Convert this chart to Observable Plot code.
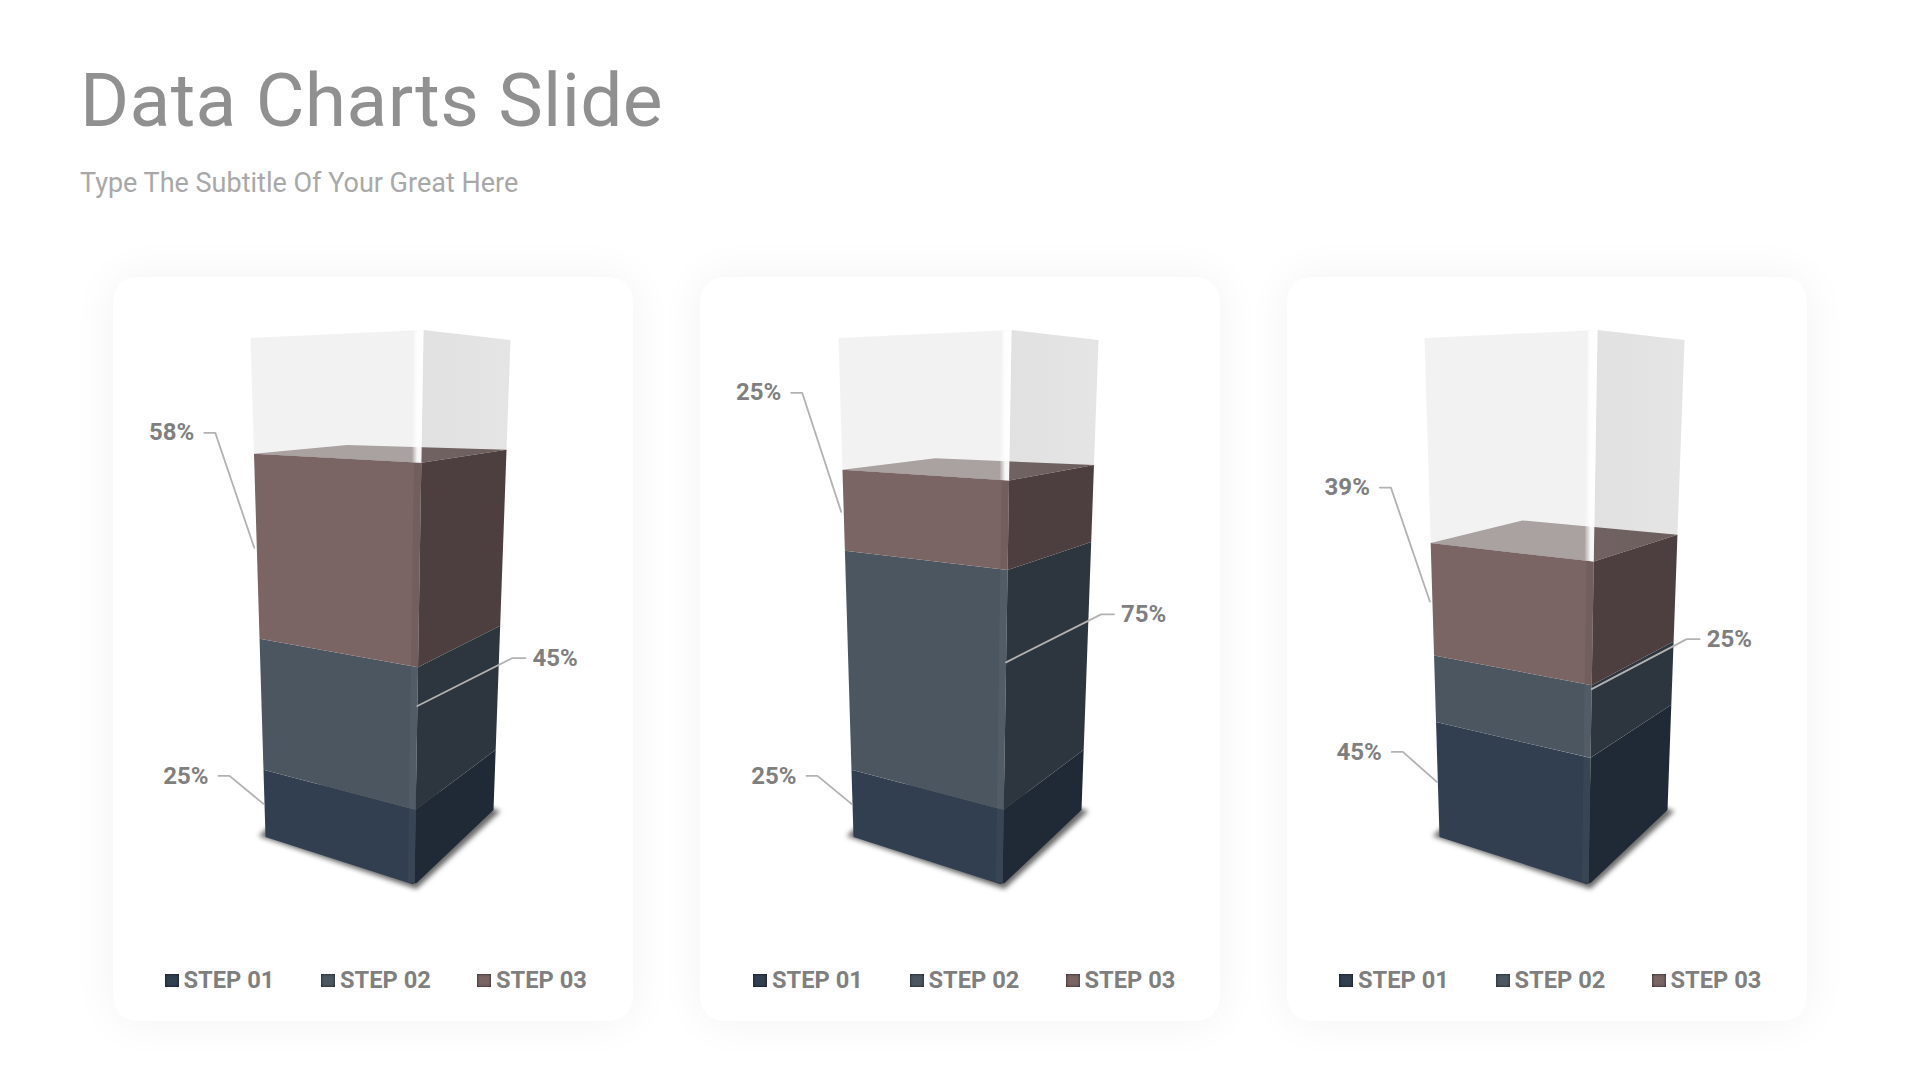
<!DOCTYPE html>
<html><head><meta charset="utf-8">
<script src="https://cdn.jsdelivr.net/npm/d3@7"></script>
<script src="https://cdn.jsdelivr.net/npm/@observablehq/plot@0.6"></script>
<style>
html,body{margin:0;padding:0;background:#fff;width:1920px;height:1080px;overflow:hidden;font-family:Roboto,sans-serif}
h1{position:absolute;left:80px;top:56px;margin:0;font-size:75px;line-height:88px;font-weight:400;color:#909090;letter-spacing:.35px}
p.sub{position:absolute;left:80px;top:166px;margin:0;font-size:27px;line-height:34px;font-weight:400;color:#a8a8a8}
.card{position:absolute;top:277px;width:520px;height:744px;background:#fff;border-radius:24px;box-shadow:0 0 46px rgba(0,0,0,.055)}
.card svg{position:absolute;left:0;top:0;overflow:visible}
.legend{position:absolute;top:689px;left:0;width:100%;height:28px}
.item{position:absolute;top:0;display:flex;align-items:center;height:28px;font-size:23.7px;font-weight:700;color:#7f7f7f;white-space:nowrap}
.sw{display:inline-block;width:14px;height:13px;margin-right:5px;box-shadow:inset 0 0 3px rgba(0,0,0,.75)}
</style></head><body>
<h1>Data Charts Slide</h1>
<p class="sub">Type The Subtitle Of Your Great Here</p>
<svg width="0" height="0" style="position:absolute">
  <defs>
    <linearGradient id="glassSide" x1="0" x2="1" y1="0" y2="0">
      <stop offset="0" stop-color="#a7a7a7" stop-opacity=".34"/>
      <stop offset="1" stop-color="#a7a7a7" stop-opacity=".30"/>
    </linearGradient>
    <linearGradient id="glassStrip" x1="0" x2="1" y1="0" y2="0">
      <stop offset="0" stop-color="#ffffff" stop-opacity=".1"/>
      <stop offset=".45" stop-color="#ffffff" stop-opacity=".9"/>
      <stop offset="1" stop-color="#ffffff" stop-opacity=".95"/>
    </linearGradient>
  </defs>
</svg>
<script>
const steps = ["STEP 01","STEP 02","STEP 03"];
// printed percentages
const labels1 = [25,45,58];
const labels2 = [25,75,25];
const labels3 = [45,25,39];
const chartLabels = [labels1,labels2,labels3];
// bar heights, on a common axis
const heights1 = [25,45,58];
const heights2 = [25,72.6,25.4];
const heights3 = [41.4,22.9,35.7];
const chartHeights = [heights1,heights2,heights3];
const axisMax = 163;

const frontColors = ["#323f50","#4b5660","#7a6464"];
const sideColors  = ["#202a36","#2d353e","#4d3f3f"];
const bevelColors = ["#ffffff","#ffffff","#000000"];
const bevelAlpha  = [.03,.04,.05];
const topFaceColor = "#553f3f";
const leaderColor = "#b2b2b2";
const labelColor = "#7f7f7f";

// layout
const cardLeft = [112.5,700,1287];
const boxShift = [0,1,0];
const leaderRise = [[28,48,115],[28,48,119],[30,50,114]];
const W = 520, H = 660;

// perspective calibration of the three visible vertical edges of the box
const knots = [0,.153,.429,.785,1];
const edgeL = {x0:152.5,x1:137.5,y0:560,d:d3.scaleLinear(knots,[0,67,198,383,499])};
const edgeC = {x0:301.5,x1:310.5,y0:608,d:d3.scaleLinear(knots,[0,75,217.5,422,555])};
const edgeR = {x0:380.5,x1:397.5,y0:533,d:d3.scaleLinear(knots,[0,60,184,360,470])};
const pt = (e,t,s=0)=>{const d=e.d(t),f=d/e.d(1);return [e.x0+(e.x1-e.x0)*f+s,e.y0-d];};
const mix = (a,b,u)=>[a[0]+(b[0]-a[0])*u,a[1]+(b[1]-a[1])*u];

function drawChart(vals,texts,rise,s){
  const L=t=>pt(edgeL,t,s),C=t=>pt(edgeC,t,s),R=t=>pt(edgeR,t,s);
  const cum=d3.cumsum(vals).map(v=>v/axisMax);
  const lev=[0,...cum], topT=lev[3];
  const faces=[];let id=0;
  const row=(z,a,d,fill,op)=>faces.push({z,x1:a[0],y1:a[1],x2:d[0],y2:d[1],fill,op});
  const quad=(a,b,c,d,fill,op=1)=>{id++;row(id,a,d,fill,op);row(id,b,c,fill,op);};
  vals.forEach((v,i)=>{
    const t0=lev[i],t1=lev[i+1];
    if(i===0){
      // the foot of the box has a softened front corner
      const c0=C(0),foot=[c0[0],c0[1]-1.5];
      id++;row(id,L(t1),L(0),frontColors[0],1);
      row(id,mix(L(t1),C(t1),.94),mix(L(0),c0,.94),frontColors[0],1);
      row(id,mix(L(t1),C(t1),.98),mix(L(0),c0,.985),frontColors[0],1);
      row(id,C(t1),foot,frontColors[0],1);
      id++;row(id,C(t1),foot,sideColors[0],1);
      row(id,mix(C(t1),R(t1),.03),mix(c0,R(0),.03),sideColors[0],1);
      row(id,mix(C(t1),R(t1),.1),mix(c0,R(0),.1),sideColors[0],1);
      row(id,R(t1),R(0),sideColors[0],1);
    } else {
      quad(L(t1),C(t1),C(t0),L(t0),frontColors[i]);
      quad(C(t1),R(t1),R(t0),C(t0),sideColors[i]);
    }
    const fb=i===0?[C(t0)[0],C(t0)[1]-3]:C(t0);
    quad(mix(L(t1),C(t1),.955),C(t1),fb,mix(L(t0),C(t0),.955),bevelColors[i],bevelAlpha[i]);
  });
  // top of the stack, seen through the glass
  const l=L(topT),c=C(topT),r=R(topT),b=[l[0]+r[0]-c[0]+8,l[1]+r[1]-c[1]+4];
  quad(b,r,c,l,topFaceColor);
  // glass panels
  quad(L(1),C(1),c,l,"#e9e9e9",.58);
  quad(C(1),R(1),r,c,"url(#glassSide)",1);
  quad(mix(L(1),C(1),.945),C(1),c,mix(l,c,.945),"url(#glassStrip)",1);

  // ground shadow
  const gl=L(0),gc=C(0),gr=R(0),gm=[gl[0]+gr[0]-gc[0],gl[1]+gr[1]-gc[1]];
  const shadow=[
    {x1:gl[0]-7,y1:gl[1]-1,x2:gm[0],y2:gm[1]},
    {x1:gc[0]+2,y1:gc[1]+4,x2:gr[0]+7,y2:gr[1]+1}];

  // leaders and labels
  const leaders=[],tags=[];
  vals.forEach((v,i)=>{
    const tm=(lev[i]+lev[i+1])/2;
    let a,el,end,anchor,tx;
    if(i===1){const p=C(tm);a=[p[0],p[1]-33];el=[a[0]+95,a[1]-rise[i]];end=[el[0]+13,el[1]];tx=end[0]+7;anchor="start";}
    else{const p=L(tm);
      a=i===0?[p[0]-1.5,p[1]]:[p[0]-3,p[1]+1];
      const dx=i===0?-34:-39;
      el=[a[0]+dx,a[1]-rise[i]];end=[el[0]-11,el[1]];tx=end[0]-10;anchor="end";}
    [a,el,end].forEach(q=>leaders.push({k:i,x:q[0],y:q[1]}));
    tags.push({x:tx,y:end[1],text:texts[i]+"%",anchor});
  });
  return Plot.plot({
    width:W,height:H,margin:0,
    x:{domain:[0,W],range:[0,W],axis:null},
    y:{domain:[0,H],range:[0,H],axis:null},
    style:{fontFamily:"Roboto, sans-serif",background:"transparent"},
    marks:[
      Plot.area(shadow,{x1:"x1",y1:"y1",x2:"x2",y2:"y2",fill:"#3a3a3a",fillOpacity:.75,imageFilter:"blur(2.5px)",curve:"linear"}),
      Plot.area(faces,{x1:"x1",y1:"y1",x2:"x2",y2:"y2",z:"z",fill:"fill",fillOpacity:"op",curve:"linear"}),
      Plot.line(leaders,{x:"x",y:"y",z:"k",stroke:leaderColor,strokeWidth:1.8,curve:"linear"}),
      Plot.text(tags.filter(d=>d.anchor==="end"),{x:"x",y:"y",text:"text",textAnchor:"end",fill:labelColor,fontSize:24,fontWeight:700}),
      Plot.text(tags.filter(d=>d.anchor==="start"),{x:"x",y:"y",text:"text",textAnchor:"start",fill:labelColor,fontSize:24,fontWeight:700})
    ]
  });
}

const legendX=[52,208.5,364.5];
chartHeights.forEach((vals,i)=>{
  const card=document.createElement("div");
  card.className="card";card.style.left=cardLeft[i]+"px";
  card.appendChild(drawChart(vals,chartLabels[i],leaderRise[i],boxShift[i]));
  const lg=document.createElement("div");lg.className="legend";
  steps.forEach((s,j)=>{
    const it=document.createElement("div");it.className="item";it.style.left=(legendX[j]+boxShift[i])+"px";
    const sw=document.createElement("span");sw.className="sw";sw.style.background=frontColors[j];
    it.appendChild(sw);it.appendChild(document.createTextNode(s));lg.appendChild(it);
  });
  card.appendChild(lg);
  document.body.appendChild(card);
});
</script>
</body></html>
